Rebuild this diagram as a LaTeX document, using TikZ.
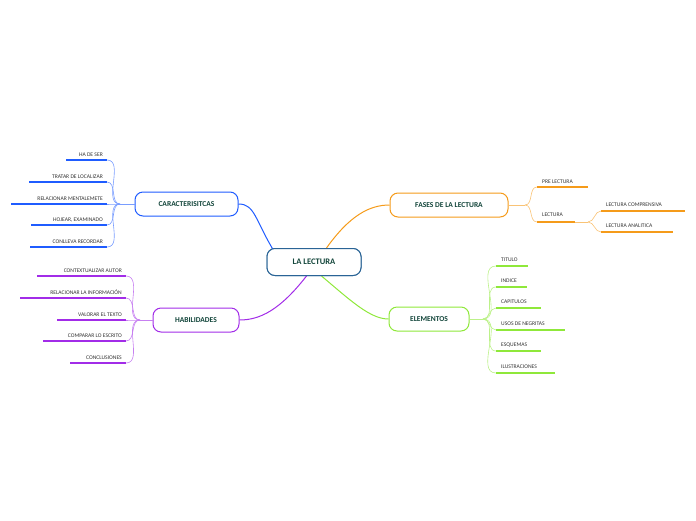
\documentclass[tikz,border=0pt]{standalone}
\usepackage{fontspec}
\setmainfont{Carlito}
\begin{document}
\begin{tikzpicture}[x=1pt,y=-1pt]
\definecolor{cblue}{HTML}{1F5CFF}
\definecolor{cpur}{HTML}{A22CE8}
\definecolor{corg}{HTML}{F59B1A}
\definecolor{cgrn}{HTML}{8FE83A}
\definecolor{ctxt}{HTML}{12453A}
\definecolor{ccen}{HTML}{2A6496}
\tikzset{
 box/.style={draw=#1,line width=1pt,rounded corners=8pt,fill=white,font=\bfseries\fontsize{7.5}{9}\selectfont,text=ctxt,inner sep=0pt},
 lf/.style={font=\fontsize{5.6}{7}\selectfont,text=black!80,inner sep=0pt,anchor=base},
 ln/.style={draw=#1,line width=1.4pt},
 cn/.style={draw=#1!60,line width=0.6pt},
 br/.style={draw=#1,line width=1pt}
}
\useasboundingbox (0,0) rectangle (696,520);
% central
\node[box=ccen,minimum width=94,minimum height=27] (c) at (314,262) {\fontsize{8.5}{10}\selectfont LA LECTURA};
\node[box=cblue,minimum width=103,minimum height=24] (car) at (186.5,204) {CARACTERISITCAS};
\node[box=cpur,minimum width=86,minimum height=24] (hab) at (196,320) {HABILIDADES};
\node[box=corg,minimum width=118,minimum height=24] (fas) at (449,205) {FASES DE LA LECTURA};
\node[box=cgrn,minimum width=80,minimum height=24] (ele) at (429,319) {ELEMENTOS};
\begin{scope}[on background layer/.try]
\end{scope}
\draw[br=cblue] (c.north west)++(8,4) coordinate (c1) .. controls (255,220) and (255,204) .. (car.east);
\draw[br=cpur] (c.south west)++(40,0) coordinate (c2) .. controls (280,310) and (260,320) .. (hab.east);
\draw[br=corg] (c.north east)++(-35,0) coordinate (c3) .. controls (350,215) and (370,205) .. (fas.west);
\draw[br=cgrn] (c.south east)++(-40,0) coordinate (c4) .. controls (350,300) and (370,319) .. (ele.west);
% CARACTERISTICAS leaves
\coordinate (jc) at (120,204);
\draw[cn=cblue] (car.west) -- (jc);
\foreach \t/\y/\x [count=\i] in {HA DE SER/160/66,TRATAR DE LOCALIZAR/182/29,RELACIONAR MENTALEMETE/204/11,{HOJEAR, EXAMINADO}/225/31,CONLLEVA RECORDAR/247/30}{
 \coordinate (a\i) at (\x,\y); \coordinate (b\i) at (107,\y);
 \draw[ln=cblue] (a\i) -- (b\i);
 \node[lf,anchor=base east] (ct\i) at (103,\y-4) {\t};
 \draw[cn=cblue] (jc) to[out=180,in=0] (b\i);
}
% HABILIDADES leaves
\coordinate (jh) at (140,320);
\draw[cn=cpur] (hab.west) -- (jh);
\foreach \t/\y/\x [count=\i] in {CONTEXTUALIZAR AUTOR/276/37,RELACIONAR LA INFORMACIÓN/298/20,VALORAR EL TEXTO/320/57,COMPARAR LO ESCRITO/341/43,CONCLUSIONES/363/70}{
 \coordinate (ha\i) at (\x,\y); \coordinate (hb\i) at (126,\y);
 \draw[ln=cpur] (ha\i) -- (hb\i);
 \node[lf,anchor=base east] (ht\i) at (122,\y-4) {\t};
 \draw[cn=cpur] (jh) to[out=180,in=0] (hb\i);
}
% FASES leaves
\coordinate (jf) at (525,205);
\draw[cn=corg] (fas.east) -- (jf);
\coordinate (fa1) at (537,187); \coordinate (fb1) at (588,187);
\coordinate (fa2) at (537,222); \coordinate (fb2) at (575,222);
\draw[ln=corg] (fa1) -- (fb1); \draw[ln=corg] (fa2) -- (fb2);
\node[lf,anchor=base west] (ft1) at (542,183) {PRE LECTURA};
\node[lf,anchor=base west] (ft2) at (542,216) {LECTURA};
\draw[cn=corg] (jf) to[out=0,in=180] (fa1);
\draw[cn=corg] (jf) to[out=0,in=180] (fa2);
\coordinate (jl) at (588,222);
\draw[cn=corg] (fb2) -- (jl);
\coordinate (la1) at (601,211); \coordinate (lb1) at (685,211);
\coordinate (la2) at (601,232); \coordinate (lb2) at (673,232);
\draw[ln=corg] (la1) -- (lb1); \draw[ln=corg] (la2) -- (lb2);
\node[lf,anchor=base west] (lt1) at (606,206) {LECTURA COMPRENSIVA};
\node[lf,anchor=base west] (lt2) at (606,227) {LECTURA ANALITICA};
\draw[cn=corg] (jl) to[out=0,in=180] (la1);
\draw[cn=corg] (jl) to[out=0,in=180] (la2);
% ELEMENTOS leaves
\coordinate (je) at (483,319);
\draw[cn=cgrn] (ele.east) -- (je);
\foreach \t/\y/\x [count=\i] in {TITULO/266/528,INDICE/287/527,CAPITULOS/308/541,USOS DE NEGRITAS/330/565,ESQUEMAS/351/541,ILUSTRACIONES/373/555}{
 \coordinate (ea\i) at (496,\y); \coordinate (eb\i) at (\x,\y);
 \draw[ln=cgrn] (ea\i) -- (eb\i);
 \node[lf,anchor=base west] (et\i) at (501,\y-5) {\t};
 \draw[cn=cgrn] (je) to[out=0,in=180] (ea\i);
}
% redraw boxes on top
\node[box=ccen,minimum width=94,minimum height=27] at (314,262) {\fontsize{8.5}{10}\selectfont LA LECTURA};
\end{tikzpicture}
\end{document}
